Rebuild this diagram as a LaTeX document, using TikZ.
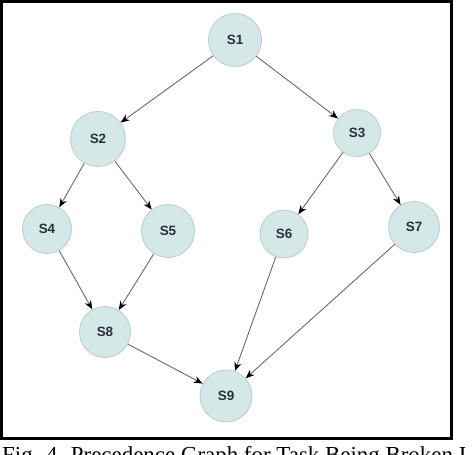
\documentclass[tikz,border=0pt]{standalone}
\usepackage{fontspec}
\setmainfont{Liberation Serif}
\setsansfont{Liberation Sans}
\definecolor{statefill}{RGB}{212, 232, 232}
\definecolor{stateline}{RGB}{185, 205, 205}
\definecolor{statetext}{RGB}{40, 48, 58}
\definecolor{edgegray}{RGB}{105, 105, 105}
\usetikzlibrary{arrows.meta}

\begin{document}
\begin{tikzpicture}[x=1bp, y=-1bp,
  state/.style={circle, fill=statefill, draw=stateline, line width=0.8bp, minimum size=51bp, inner sep=0pt,
    font=\sffamily\bfseries\fontsize{13.5}{16}\selectfont, text=statetext},
  edge/.style={draw=edgegray, line width=0.9bp, -{Stealth[black, length=9bp, width=7bp]}}]
  \useasboundingbox (0,0) rectangle (474,455);
  \clip (0,0) rectangle (474,455);

  % Frame
  \draw[line width=3bp] (1.5,1.5) rectangle (451,438);

  % States
  \node[state, minimum size=53bp] (s1) at (235,40) {S1};
  \node[state, minimum size=55bp] (s2) at (98,139) {S2};
  \node[state, minimum size=47bp] (s3) at (357,133) {S3};
  \node[state, minimum size=49bp] (s4) at (47,229) {S4};
  \node[state, minimum size=53bp] (s5) at (168,231) {S5};
  \node[state, minimum size=48bp] (s6) at (284,234) {S6};
  \node[state] (s7) at (414,227) {S7};
  \node[state] (s8) at (105,332) {S8};
  \node[state, minimum size=52bp] (s9) at (226,396) {S9};

  % Precedence edges
  \foreach \a/\b in {s1/s2, s1/s3, s2/s4, s2/s5, s3/s6, s3/s7, s4/s8, s5/s8, s8/s9, s6/s9, s7/s9}
    \draw[edge] (\a) -- (\b);

  % Caption (cut off by the page edge)
  \node[anchor=base west, inner sep=0pt, font=\fontsize{23}{27}\selectfont] (caption) at (2,462.5)
    {Fig. 4. Precedence Graph for Task Being Broken I};
\end{tikzpicture}
\end{document}
